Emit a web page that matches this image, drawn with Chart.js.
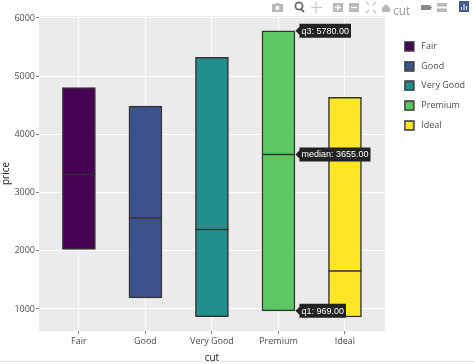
<!DOCTYPE html>
<html>
<head>
<meta charset="utf-8">
<script src="https://cdn.jsdelivr.net/npm/chart.js@4/dist/chart.umd.min.js"></script>
<style>
body { margin: 0; background: #fff; font-family: "Open Sans", sans-serif; }
#wrap { position: relative; width: 474px; height: 364px; overflow: hidden; }
#modebar { position: absolute; left: 0; top: 0; }
#cutlabel { position: absolute; left: 393px; top: 2px; font-size: 12px; color: #9a9a9a; }
#rule { position: absolute; left: 0; top: 361px; width: 474px; height: 1px; background: #dfe3e8; }
</style>
</head>
<body>
<div id="wrap">
    <canvas id="myChart" width="474" height="364"></canvas>
    <svg id="modebar" width="474" height="16" fill="#b9b9b9">
        <!-- camera -->
        <path d="M272 4h3l1-1h3l1 1h3v8h-11z"/><circle cx="277.5" cy="8" r="2" fill="#fff"/>
        <!-- zoom -->
        <circle cx="299" cy="6" r="3.6" fill="none" stroke="#6a6a6a" stroke-width="1.8"/><path d="M301 9l3 3" stroke="#6a6a6a" stroke-width="2"/>
        <!-- pan -->
        <path d="M316 2v11M311 7.5h11" stroke="#c4c4c4" stroke-width="1.2"/>
        <!-- zoom in, zoom out -->
        <rect x="333" y="3" width="10" height="9"/><path d="M335 7.5h6M338 4.5v6" stroke="#fff" stroke-width="1.4"/>
        <rect x="349" y="3" width="10" height="9"/><path d="M351 7.5h6" stroke="#fff" stroke-width="1.4"/>
        <!-- autoscale -->
        <path d="M366 2l3 3M376 2l-3 3M366 13l3-3M376 13l-3-3" stroke="#c4c4c4" stroke-width="1.2"/>
        <!-- home -->
        <path d="M382 8l4-4 4 4v4h-8z"/>
        <!-- spike, compare, logo -->
        <path d="M421 5h9l2 2.5-2 2.5h-9z" fill="#8a8a8a"/>
        <rect x="437" y="3" width="10" height="3.6"/><rect x="437" y="8.4" width="10" height="3.6"/>
        <rect x="459" y="1" width="10" height="11" fill="#3f5a8c"/><path d="M461.5 10v-3M464 10v-6M466.5 10v-4" stroke="#fff" stroke-width="1"/>
    </svg>
    <div id="cutlabel">cut</div>
    <div id="rule"></div>
</div>
<script>
// Values
const categories = ['Fair', 'Good', 'Very Good', 'Premium', 'Ideal'];
const q1Values = [2025, 1190, 868, 969, 862];
const medianValues = [3310, 2563, 2365, 3655, 1653];
const q3Values = [4805, 4485, 5325, 5780, 4635];
const fillColors = ['#440154', '#3B528B', '#21908C', '#5DC863', '#FDE725'];
const yTicks = [1000, 2000, 3000, 4000, 5000, 6000];
const hoverIndex = 3;

const textColor = '#4d4d4d';
const tickFont = { family: '"Open Sans", sans-serif', size: 9 };
const titleFont = { family: '"Open Sans", sans-serif', size: 10 };

// Legend swatch with some room on its right, so the text sits further away
function makeSwatch(color) {
    const c = document.createElement('canvas');
    c.width = 13;
    c.height = 11;
    const g = c.getContext('2d');
    g.fillStyle = color;
    g.strokeStyle = '#333333';
    g.lineWidth = 1.5;
    g.fillRect(1, 1, 9, 9);
    g.strokeRect(1, 1, 9, 9);
    return c;
}

// Grey panel behind the grid, legend and panel top pinned
const panelPlugin = {
    id: 'panel',
    afterLayout(chart) {
        chart.legend.left = 393;
        chart.legend.right = 474;
        chart.legend.top = 31;
        const y = chart.scales.y;
        y.top = 16;
        y.height = y.bottom - 16;
        y.configure();
        chart.chartArea.top = 16;
        chart.chartArea.height = chart.chartArea.bottom - 16;
    },
    beforeDraw(chart) {
        const a = chart.chartArea;
        chart.ctx.fillStyle = '#EBEBEB';
        chart.ctx.fillRect(a.left, a.top, a.right - a.left, a.bottom - a.top);
    }
};

// Plotly style hover labels for the Premium box
const hoverPlugin = {
    id: 'hoverLabels',
    afterDatasetsDraw(chart) {
        const ctx = chart.ctx;
        const y = chart.scales.y;
        const labels = [
            'q3: ' + q3Values[hoverIndex].toFixed(2),
            'median: ' + medianValues[hoverIndex].toFixed(2),
            'q1: ' + q1Values[hoverIndex].toFixed(2)
        ];
        const values = [q3Values[hoverIndex], medianValues[hoverIndex], q1Values[hoverIndex]];
        const tip = chart.scales.x.getPixelForValue(hoverIndex) + 17;
        ctx.save();
        ctx.font = '9px "Liberation Sans", Arial, sans-serif';
        ctx.textBaseline = 'middle';
        labels.forEach(function (text, i) {
            const py = y.getPixelForValue(values[i]);
            const w = ctx.measureText(text).width + 4;
            ctx.fillStyle = '#222222';
            ctx.beginPath();
            ctx.moveTo(tip, py);
            ctx.lineTo(tip + 4, py - 4);
            ctx.lineTo(tip + 4, py - 7);
            ctx.lineTo(tip + 4 + w, py - 7);
            ctx.lineTo(tip + 4 + w, py + 7);
            ctx.lineTo(tip + 4, py + 7);
            ctx.lineTo(tip + 4, py + 4);
            ctx.closePath();
            ctx.fill();
            ctx.fillStyle = '#ffffff';
            ctx.fillText(text, tip + 6, py + 0.5);
        });
        ctx.restore();
    }
};

const config = {
    data: {
        datasets: [{
            type: 'bar',
            data: categories.map((c, i) => ({ x: i, y: [q1Values[i], q3Values[i]] })),
            backgroundColor: fillColors,
            borderColor: '#333333',
            borderWidth: 1.5,
            borderSkipped: false,
            barThickness: 33,
            order: 2
        }, {
            type: 'scatter',
            data: categories.map((c, i) => ({ x: i, y: medianValues[i] })),
            pointStyle: 'line',
            pointRadius: 16.5,
            pointBorderColor: '#333333',
            pointBorderWidth: 1.5,
            order: 1
        }]
    },
    options: {
        responsive: false,
        animation: false,
        layout: { padding: { top: 16, right: 7, left: 0, bottom: 0 } },
        plugins: {
            tooltip: { enabled: false },
            legend: {
                position: 'right',
                align: 'start',
                labels: {
                    usePointStyle: true,
                    pointStyleWidth: 13,
                    boxHeight: 9,
                    padding: 10.8,
                    color: textColor,
                    font: tickFont,
                    generateLabels() {
                        return categories.map((c, i) => ({
                            text: c,
                            fontColor: textColor,
                            pointStyle: makeSwatch(fillColors[i]),
                            datasetIndex: 0
                        }));
                    }
                }
            }
        },
        scales: {
            x: {
                type: 'linear',
                min: -0.6,
                max: 4.6,
                offset: false,
                afterBuildTicks(scale) {
                    scale.ticks = categories.map((c, i) => ({ value: i }));
                },
                afterFit(scale) { scale.height = 33; },
                ticks: {
                    autoSkip: false,
                    maxRotation: 0,
                    color: textColor,
                    font: tickFont,
                    padding: 2,
                    callback: (v) => categories[v]
                },
                grid: { color: '#ffffff', lineWidth: 1, tickColor: '#7f7f7f', tickLength: 3, offset: false },
                border: { display: false },
                title: { display: true, text: 'cut', color: '#222222', padding: 0, font: titleFont }
            },
            y: {
                min: 622,
                max: 6034,
                afterBuildTicks(scale) {
                    scale.ticks = yTicks.map((v) => ({ value: v }));
                },
                afterFit(scale) { scale.width = 39; },
                ticks: { color: textColor, font: tickFont, padding: 1, callback: (v) => String(v) },
                grid: { color: '#ffffff', lineWidth: 1, tickColor: '#7f7f7f', tickLength: 3 },
                border: { display: false },
                title: { display: true, text: 'price', color: '#222222', padding: 0, font: titleFont }
            }
        }
    },
    plugins: [panelPlugin, hoverPlugin]
};

const myChart = new Chart(document.getElementById('myChart'), config);
</script>
</body>
</html>
